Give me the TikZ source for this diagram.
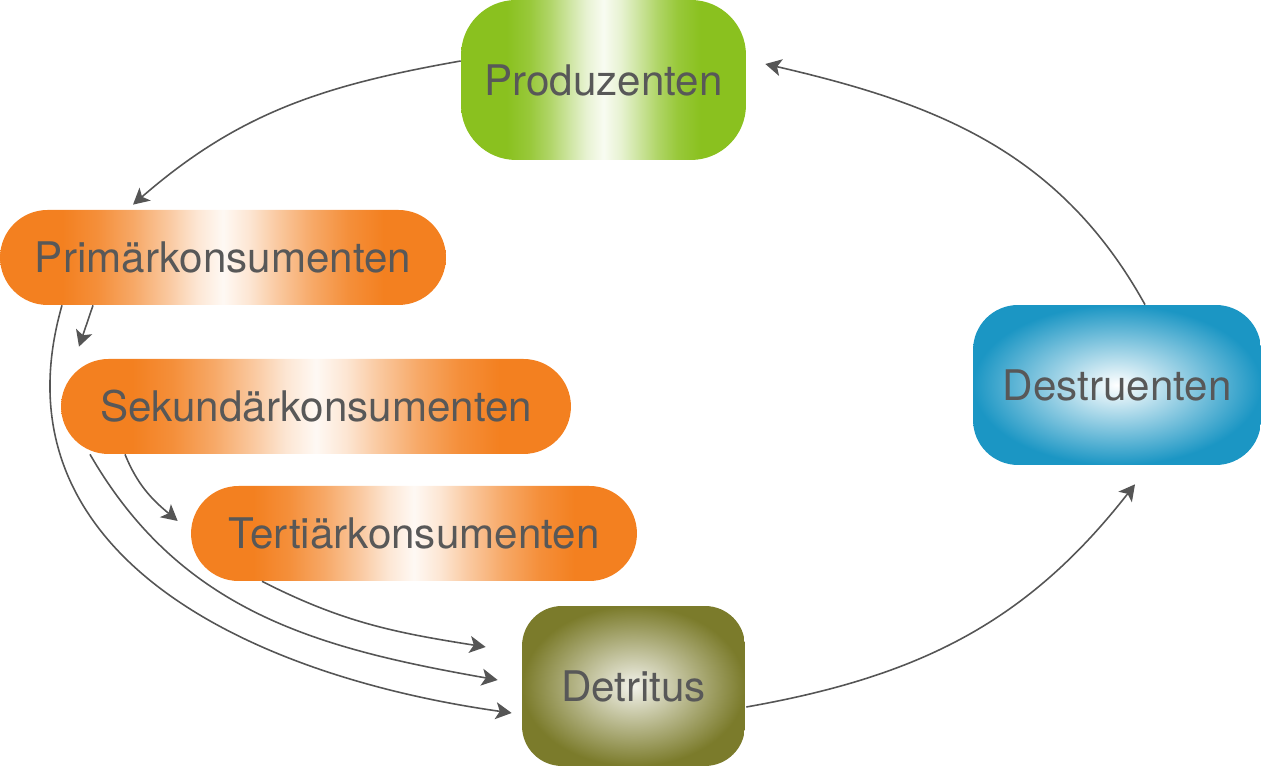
\documentclass[tikz,border=0pt]{standalone}
\usepackage{fontspec}
\setmainfont{TeX Gyre Heros}
\usetikzlibrary{arrows.meta}
\definecolor{orng}{RGB}{243,128,32}
\definecolor{grn}{RGB}{138,193,31}
\definecolor{olv}{RGB}{123,123,43}
\definecolor{blu}{RGB}{27,150,196}
\definecolor{txtgray}{RGB}{88,88,88}
\definecolor{linegray}{RGB}{85,85,85}
\colorlet{orngA}{orng!88!white}
\colorlet{orngB}{orng!68!white}
\colorlet{orngC}{orng!42!white}
\colorlet{orngD}{orng!20!white}
\colorlet{orngE}{orng!5!white}
\colorlet{grnA}{grn!88!white}
\colorlet{grnB}{grn!68!white}
\colorlet{grnC}{grn!42!white}
\colorlet{grnD}{grn!20!white}
\colorlet{grnE}{grn!6!white}
\pgfdeclarehorizontalshading{pillorange}{100bp}{color(0bp)=(orng); color(32bp)=(orng); color(36bp)=(orngA); color(40bp)=(orngB); color(44bp)=(orngC); color(47bp)=(orngD); color(50bp)=(orngE); color(53bp)=(orngD); color(56bp)=(orngC); color(60bp)=(orngB); color(64bp)=(orngA); color(68bp)=(orng); color(100bp)=(orng)}
\pgfdeclarehorizontalshading{pillgreen}{100bp}{color(0bp)=(grn); color(33bp)=(grn); color(37bp)=(grnA); color(40.5bp)=(grnB); color(44bp)=(grnC); color(47bp)=(grnD); color(50bp)=(grnE); color(53bp)=(grnD); color(56bp)=(grnC); color(59.5bp)=(grnB); color(63bp)=(grnA); color(67bp)=(grn); color(100bp)=(grn)}
\tikzset{
  label/.style={align=center, inner sep=0pt, text=txtgray, font=\fontsize{24}{28}\selectfont},
  pill/.style={label, shading=pillorange, minimum height=1.9cm, rounded corners=0.95cm},
  prodbox/.style={label, shading=pillgreen, minimum width=5.7cm, minimum height=3.2cm, rounded corners=1.1cm},
  detrbox/.style={label, inner color=olv!10!white, outer color=olv, minimum width=4.46cm, minimum height=3.2cm, rounded corners=0.8cm},
  destrbox/.style={label, inner color=white, outer color=blu, minimum width=5.76cm, minimum height=3.2cm, rounded corners=0.9cm},
  arrow/.style={-{Stealth[length=0.32cm,width=0.34cm,inset=0.08cm]}, line width=0.9pt, draw=linegray}
}
\begin{document}
\begin{tikzpicture}[x=0.02cm,y=0.02cm]
  \useasboundingbox (0,0) rectangle (1261,766);
  \node[prodbox] (prod) at (603.5,686) {Produzenten};
  \node[pill, minimum width=8.92cm] (prim) at (223,508.5) {Primärkonsumenten};
  \node[pill, minimum width=10.2cm] (sek) at (316,359.5) {Sekundärkonsumenten};
  \node[pill, minimum width=8.92cm] (tert) at (414,232.5) {Tertiärkonsumenten};
  \node[detrbox] (detr) at (633.5,80) {Detritus};
  \node[destrbox] (destr) at (1117,381) {Destruenten};
  % cycle
  \draw[arrow] ([shift={(0,19)}]prod.west) to[out=190, in=41] ([shift={(-90,5)}]prim.north);
  \draw[arrow] ([shift={(28,0)}]destr.north) to[out=119, in=-13] ([shift={(19,16)}]prod.east);
  \draw[arrow] ([shift={(1,-21)}]detr.east) to[out=10, in=232] ([shift={(18,-19)}]destr.south);
  % consumers
  \draw[arrow] ([shift={(-130,0)}]prim.south) -- ([shift={(-237,12)}]sek.north);
  \draw[arrow] ([shift={(-191,0)}]sek.south) to[out=-68, in=140] ([shift={(-13,12.5)}]tert.west);
  % to detritus
  \draw[arrow] ([shift={(-152,0)}]tert.south) to[out=-27, in=171] ([shift={(-36,39)}]detr.west);
  \draw[arrow] ([shift={(-226,0)}]sek.south) to[out=-60, in=170] ([shift={(-24,6)}]detr.west);
  \draw[arrow] ([shift={(-161,0)}]prim.south) to[out=-106, in=172, looseness=1.1] ([shift={(-10,-27)}]detr.west);
\end{tikzpicture}
\end{document}
